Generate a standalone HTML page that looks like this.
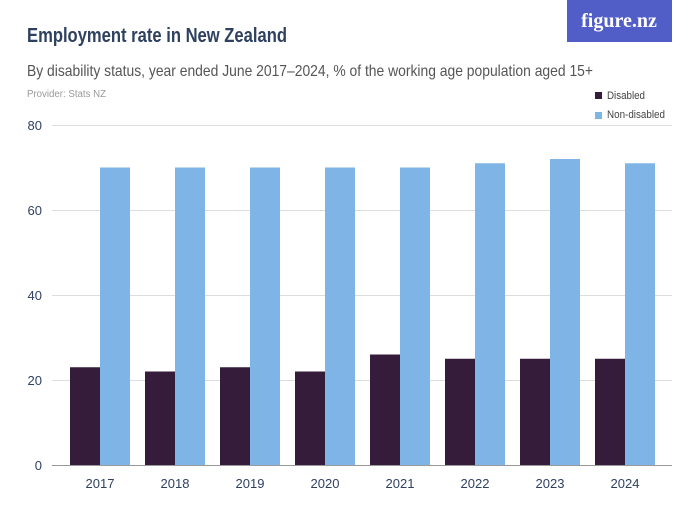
<!DOCTYPE html>
<html><head><meta charset="utf-8"><style>
body{margin:0;background:#fff;}
svg{display:block;font-family:"Liberation Sans Narrow","Liberation Sans",sans-serif;}
</style></head><body>
<svg width="700" height="525" viewBox="0 0 700 525">
<rect width="700" height="525" fill="#fff"/>
<rect x="567" y="0" width="105" height="42" fill="#525ec7"/>
<text x="619" y="27" font-family="Liberation Serif,serif" font-size="20" font-weight="bold" fill="#fff" text-anchor="middle">figure.nz</text>
<text x="27" y="42" font-size="20" font-weight="bold" fill="#2f4160" textLength="260" lengthAdjust="spacingAndGlyphs">Employment rate in New Zealand</text>
<text x="27" y="76" font-size="16" fill="#555" textLength="566" lengthAdjust="spacingAndGlyphs">By disability status, year ended June 2017–2024, % of the working age population aged 15+</text>
<text x="27" y="97" font-size="10" fill="#999" textLength="79" lengthAdjust="spacingAndGlyphs">Provider: Stats NZ</text>
<rect x="595" y="92" width="7" height="7" fill="#341c3a"/>
<text x="607" y="99" font-size="11" fill="#444" textLength="38" lengthAdjust="spacingAndGlyphs">Disabled</text>
<rect x="595" y="112" width="7" height="7" fill="#7eb5e6"/>
<text x="607" y="118" font-size="11" fill="#444" textLength="58" lengthAdjust="spacingAndGlyphs">Non-disabled</text>
<g stroke="#ddd" stroke-width="1">
<line x1="52" y1="125.5" x2="672" y2="125.5"/>
<line x1="52" y1="210.5" x2="672" y2="210.5"/>
<line x1="52" y1="295.5" x2="672" y2="295.5"/>
<line x1="52" y1="380.5" x2="672" y2="380.5"/>
</g>
<g font-size="13" fill="#2f4160" text-anchor="end">
<text x="42" y="130">80</text><text x="42" y="215">60</text><text x="42" y="300">40</text><text x="42" y="385">20</text><text x="42" y="470">0</text>
</g>
<g id="bars"></g>
<line x1="52" y1="465.5" x2="672" y2="465.5" stroke="#999"/>
<g font-size="13" fill="#2f4160" text-anchor="middle" id="xl"></g>
</svg>
<script>
var d=[23,22,23,22,26,25,25,25],n=[70,70,70,70,70,71,72,71],yr=2017;
var b=document.getElementById('bars'),xl=document.getElementById('xl'),s='',t='';
for(var i=0;i<8;i++){var c=100+75*i;
s+='<rect x="'+(c-30)+'" y="'+(465-d[i]*4.25)+'" width="30" height="'+d[i]*4.25+'" fill="#341c3a"/>';
s+='<rect x="'+c+'" y="'+(465-n[i]*4.25)+'" width="30" height="'+n[i]*4.25+'" fill="#7eb5e6"/>';
t+='<text x="'+c+'" y="488">'+(yr+i)+'</text>';}
b.innerHTML=s;xl.innerHTML=t;
</script>
</body></html>
